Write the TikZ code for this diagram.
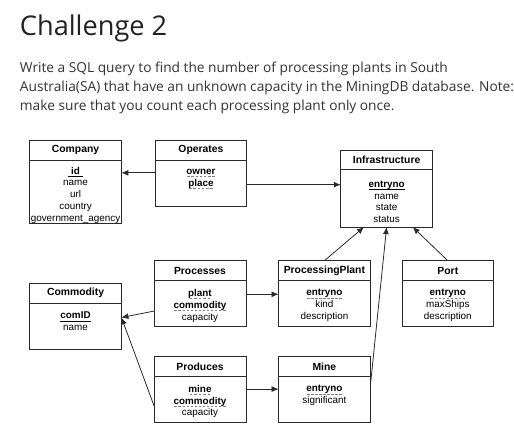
\documentclass[tikz,border=0pt]{standalone}
\usepackage{fontspec}
\setmainfont{Open Sans}
\newfontfamily\erfont{Liberation Sans}
\usepackage{tikz}
\usetikzlibrary{arrows.meta,positioning}
\definecolor{titlegray}{HTML}{222222}
\definecolor{textgray}{HTML}{333333}
\definecolor{linegray}{HTML}{2A2A2A}
\newsavebox{\keybox}
\newcommand{\pk}[1]{\leavevmode\sbox{\keybox}{\textbf{#1}}%
  \rlap{\vrule width \wd\keybox height -2pt depth 2.7pt}\usebox{\keybox}}
\newcommand{\fk}[1]{\leavevmode\sbox{\keybox}{\textbf{#1}}%
  \rlap{\hbox to \wd\keybox{\color{gray}\xleaders\hbox to 4pt{\hss\vrule width 2.6pt height -2pt depth 2.7pt\hss}\hfill}}\usebox{\keybox}}
\newcommand{\fields}[3][9pt]{\parbox[t][#2pt][t]{93pt}{\centering\vspace*{#1}#3}}

\begin{document}
\begin{tikzpicture}[x=1pt,y=-1pt,
  enthead/.style={draw=linegray, line width=0.8pt, outer sep=0pt, inner sep=0pt,
    minimum width=93pt, minimum height=20pt, anchor=north west,
    font=\erfont\fontsize{10.5}{12}\selectfont\bfseries},
  entbody/.style={draw=linegray, line width=0.8pt, outer sep=0pt, inner sep=0pt,
    below=0pt of #1, font=\erfont\fontsize{10}{12}\selectfont},
  rel/.style={-{Latex[length=7pt,width=6pt]}, line width=0.8pt, linegray}]
  \fill[white] (0,0) rectangle (514,453);

  % task text
  \node[anchor=base west, inner sep=0pt, text=titlegray,
    font=\fontsize{27.5}{33}\selectfont] (title) at (20,36) {Challenge 2};
  \node[anchor=north west, inner sep=0pt, align=left, text=textgray,
    font=\fontsize{13.9}{19}\selectfont] (task) at (20,63)
    {Write a SQL query to find the number of processing plants in South\\
     Australia(SA) that have an unknown capacity in the MiningDB database. Note:\\
     make sure that you count each processing plant only once.};

  % entities
  \node[enthead] (cmph) at (30,142) {Company};
  \node[entbody=cmph] (cmpb) {\fields[7pt]{64}{\pk{\ id\ }\\name\\url\\country\\government\_agency}};
  \node[enthead] (oph) at (157,142) {Operates};
  \node[entbody=oph] (opb) {\fields{47}{\fk{owner}\\\fk{place}}};
  \node[enthead] (infh) at (345,152) {Infrastructure};
  \node[entbody=infh] (infb) {\fields[11pt]{58}{\pk{entryno}\\name\\state\\status}};
  \node[enthead] (prch) at (156,264) {Processes};
  \node[entbody=prch] (prcb) {\fields{47}{\fk{plant}\\\fk{commodity}\\capacity}};
  \node[enthead] (pph) at (282,264) {ProcessingPlant};
  \node[entbody=pph] (ppb) {\fields{47}{\fk{entryno}\\kind\\description}};
  \node[enthead] (porth) at (407,264) {Port};
  \node[entbody=porth] (portb) {\fields{47}{\fk{entryno}\\maxShips\\description}};
  \node[enthead] (cmdh) at (30,287) {Commodity};
  \node[entbody=cmdh] (cmdb) {\fields{47}{\pk{comID}\\name}};
  \node[enthead] (prdh) at (156,361) {Produces};
  \node[entbody=prdh] (prdb) {\fields{47}{\fk{mine}\\\fk{commodity}\\capacity}};
  \node[enthead] (mineh) at (282,361) {Mine};
  \node[entbody=mineh] (mineb) {\fields{47}{\fk{entryno}\\significant}};

  % relationships
  \draw[rel] ([yshift=10.5pt]opb.west) -- ([yshift=10.5pt]opb.west -| cmpb.east);
  \draw[rel] ([yshift=-1.5pt]opb.east) -- ([yshift=-1.5pt]opb.east -| infb.west);
  \draw[rel] ([yshift=9.5pt]prcb.east) -- ([yshift=9.5pt]prcb.east -| ppb.west);
  \draw[rel] ([yshift=10.5pt]prdb.east) -- ([yshift=10.5pt]prdb.east -| mineb.west);
  \draw[rel] ([yshift=-7.5pt]prcb.west) -- ([yshift=9pt]cmdb.east);
  \draw[rel] ([yshift=-6.5pt]prdb.west) -- ([yshift=9pt]cmdb.east);
  \draw[rel] (pph.north) -- ([xshift=-23pt]infb.south);
  \draw[rel] ([yshift=13.5pt]mineb.east) -- (infb.south);
  \draw[rel] (porth.north) -- ([xshift=26.5pt]infb.south);
\end{tikzpicture}
\end{document}
